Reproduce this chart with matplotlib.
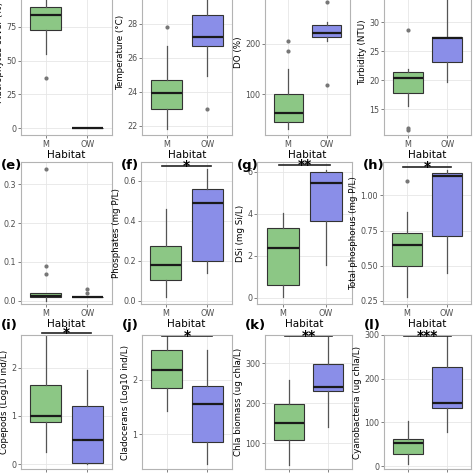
import matplotlib
matplotlib.use("Agg")
import matplotlib.pyplot as plt

habitats = ["M", "OW"]
# five-number summaries per habitat: whislo, q1, med, q3, whishi ; plus fliers
macro_M = [55, 73, 84, 90, 100]; macro_M_out = [37]
macro_OW = [0, 0, 0, 0, 0]; macro_OW_out = []
temp_M = [21.8, 23.0, 23.9, 24.7, 26.7]; temp_M_out = [27.8]
temp_OW = [24.9, 26.7, 27.2, 28.5, 30.5]; temp_OW_out = [23.0]
do_M = [30, 45, 62, 100, 150]; do_M_out = [185, 205]
do_OW = [205, 213, 222, 238, 243]; do_OW_out = [117, 283]
turb_M = [15.5, 17.8, 20.4, 21.4, 22.0]; turb_M_out = [28.7, 11.5, 11.8]
turb_OW = [19.7, 23.2, 27.3, 27.5, 36.0]; turb_OW_out = []
amm_M = [0.0, 0.01, 0.013, 0.02, 0.02]; amm_M_out = [0.34, 0.09, 0.07]
amm_OW = [0.01, 0.01, 0.01, 0.01, 0.01]; amm_OW_out = [0.02, 0.03]
phos_M = [0.02, 0.105, 0.18, 0.275, 0.46]; phos_M_out = []
phos_OW = [0.14, 0.20, 0.49, 0.56, 0.66]; phos_OW_out = []
dsi_M = [0.05, 0.6, 2.35, 3.3, 4.05]; dsi_M_out = []
dsi_OW = [1.55, 3.65, 5.45, 6.0, 6.1]; dsi_OW_out = []
tp_M = [0.28, 0.50, 0.65, 0.73, 0.88]; tp_M_out = [1.10]
tp_OW = [0.45, 0.71, 1.14, 1.16, 1.18]; tp_OW_out = []
cope_M = [0.25, 0.87, 1.0, 1.65, 2.7]; cope_M_out = []
cope_OW = [0.0, 0.03, 0.5, 1.2, 1.95]; cope_OW_out = []
clad_M = [1.43, 1.85, 2.17, 2.55, 2.8]; clad_M_out = []
clad_OW = [0.45, 0.85, 1.55, 1.88, 2.55]; clad_OW_out = []
chla_M = [45, 108, 150, 198, 258]; chla_M_out = []
chla_OW = [142, 232, 242, 298, 365]; chla_OW_out = []
cyan_M = [5, 28, 52, 62, 102]; cyan_M_out = []
cyan_OW = [78, 133, 145, 227, 298]; cyan_OW_out = []

ylabels = ["Macrophytes cover (%)", "Temperature (°C)", "DO (%)", "Turbidity (NTU)",
           "Ammonium (mg N-NH4/L)", "Phosphates (mg P/L)", "DSi (mg Si/L)", "Total phosphorus (mg P/L)",
           "Copepods (Log10 ind/L)", "Cladocerans (Log10 ind/L)", "Chla biomass (ug chla/L)", "Cyanobacteria (ug chla/L)"]
panel_tags = ["(a)", "(b)", "(c)", "(d)", "(e)", "(f)", "(g)", "(h)", "(i)", "(j)", "(k)", "(l)"]
signif = ["", "", "", "", "", "*", "**", "*", "*", "*", "**", "***"]
sig_y = [None, None, None, None, None, 0.675, 6.3, 1.2, 2.72, 2.8, 368, 298]
yticks = [[0, 25, 50, 75], [22, 24, 26, 28], [100, 200], [15, 20, 25, 30],
          [0.0, 0.1, 0.2, 0.3], [0.0, 0.2, 0.4, 0.6], [0, 2, 4, 6], [0.25, 0.50, 0.75, 1.00],
          [0, 1, 2], [1, 2], [100, 200, 300], [0, 100, 200, 300]]
yfmt = ["{:.0f}", "{:.0f}", "{:.0f}", "{:.0f}", "{:.1f}", "{:.1f}", "{:.0f}", "{:.2f}",
        "{:.0f}", "{:.0f}", "{:.0f}", "{:.0f}"]

data = [(macro_M, macro_M_out, macro_OW, macro_OW_out), (temp_M, temp_M_out, temp_OW, temp_OW_out),
        (do_M, do_M_out, do_OW, do_OW_out), (turb_M, turb_M_out, turb_OW, turb_OW_out),
        (amm_M, amm_M_out, amm_OW, amm_OW_out), (phos_M, phos_M_out, phos_OW, phos_OW_out),
        (dsi_M, dsi_M_out, dsi_OW, dsi_OW_out), (tp_M, tp_M_out, tp_OW, tp_OW_out),
        (cope_M, cope_M_out, cope_OW, cope_OW_out), (clad_M, clad_M_out, clad_OW, clad_OW_out),
        (chla_M, chla_M_out, chla_OW, chla_OW_out), (cyan_M, cyan_M_out, cyan_OW, cyan_OW_out)]

layout = [(21, 112, -30, 135), (142, 232, -30, 135), (265, 350, -30, 135), (384, 471, -30, 135),
          (21, 112, 162, 304), (141, 232, 162, 304), (257, 352, 162, 304), (383, 471, 162, 304),
          (21, 112, 335, 469), (142, 232, 335, 469), (265, 352, 335, 469), (384, 471, 335, 469)]
refs = [(0, 128, 75, 27), (22, 125.7, 28, 23.7), (100, 94, 200, 43.7), (15, 109.3, 30, 22),
        (0.0, 300.7, 0.3, 184.3), (0.0, 300.7, 0.6, 180.7), (0, 297.7, 6, 171.7), (0.25, 301, 1.0, 195.3),
        (0, 464, 2, 367.7), (1, 434.3, 2, 379.7), (100, 443.3, 300, 363.3), (0, 466, 300, 335)]

W = H = 474
fig = plt.figure(figsize=(4.74, 4.74), dpi=100)
green, blue = "#8cc785", "#8a8ee8"
for i in range(12):
    x0, x1, yt, yb = layout[i]
    ax = fig.add_axes([x0 / W, 1 - yb / H, (x1 - x0) / W, (yb - yt) / H])
    v1, p1, v2, p2 = refs[i]
    s = (p1 - p2) / (v2 - v1)
    ax.set_ylim(v1 - (yb - p1) / s, v1 + (p1 - yt) / s)
    ax.set_xlim(0.4, 2.6)
    mM, oM, mO, oO = data[i]
    stats = []
    for st, out, lab in [(mM, oM, "M"), (mO, oO, "OW")]:
        stats.append(dict(whislo=st[0], q1=st[1], med=st[2], q3=st[3], whishi=st[4], fliers=out, label=lab))
    bp = ax.bxp(stats, positions=[1, 2], widths=0.75, patch_artist=True, showcaps=False,
                boxprops=dict(edgecolor="#333333", linewidth=0.8),
                medianprops=dict(color="#1a1a1a", linewidth=1.6),
                whiskerprops=dict(color="#555555", linewidth=0.9),
                flierprops=dict(marker="o", markersize=3, markerfacecolor="#777777",
                                markeredgecolor="none"))
    for patch, c in zip(bp["boxes"], [green, blue]):
        patch.set_facecolor(c)
    ax.set_yticks(yticks[i])
    ax.set_yticklabels([yfmt[i].format(t) for t in yticks[i]])
    ax.set_xticks([1, 2])
    ax.set_xticklabels(habitats)
    ax.grid(True, color="#e6e6e6", linewidth=0.6)
    ax.set_axisbelow(True)
    for sp in ax.spines.values():
        sp.set_color("#b3b3b3")
        sp.set_linewidth(0.8)
    ax.tick_params(labelsize=5.8, colors="#4d4d4d", length=2, width=0.5, pad=1.5)
    ax.set_ylabel(ylabels[i], fontsize=6.3, labelpad=1.5)
    if i < 8:
        ax.set_xlabel("Habitat", fontsize=7.5, labelpad=1)
    if sig_y[i] is not None:
        ax.plot([0.9, 2.1], [sig_y[i], sig_y[i]], color="#222222", linewidth=1.2, clip_on=False)
        ax.text(1.5, sig_y[i], signif[i], ha="center", va="center", fontsize=10, fontweight="bold")
    if i >= 4:
        ty = yt + 4 if i < 8 else yt - 9
        ax.text((x0 - 20) / W, 1 - ty / H, panel_tags[i], transform=fig.transFigure,
                fontsize=9.5, fontweight="bold", ha="left", va="center")

fig.savefig("out.png", dpi=100)
